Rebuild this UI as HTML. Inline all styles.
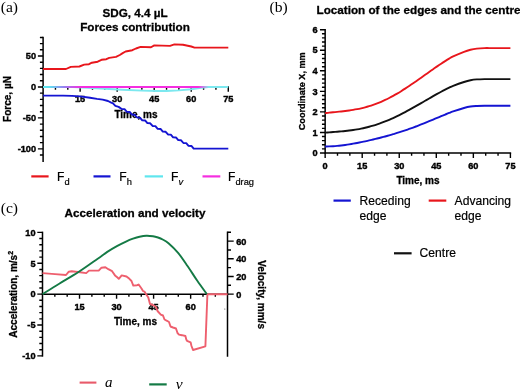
<!DOCTYPE html>
<html><head><meta charset="utf-8"><title>Figure</title>
<style>
html,body{margin:0;padding:0;background:#fff;}
body{width:520px;height:391px;overflow:hidden;}
svg{display:block;}
text{font-family:"Liberation Sans",Arial,sans-serif;fill:#000;}
.b{font-weight:bold;}
.tk{font-weight:bold;font-size:9.2px;stroke:#000;stroke-width:0.4px;}
.ttl{font-weight:bold;font-size:11.7px;stroke:#000;stroke-width:0.3px;}
.ax{font-weight:bold;font-size:10px;stroke:#000;stroke-width:0.3px;}
.lg{font-size:12.1px;stroke:#000;stroke-width:0.2px;}
.sub{font-size:9.3px;}
.ser{font-family:"Liberation Serif","Times New Roman",serif;}
.axl{stroke:#000;stroke-width:1.5;fill:none;stroke-linecap:square;}
.t{stroke:#000;stroke-width:1.4;fill:none;}
.c{fill:none;stroke-width:1.9;stroke-linejoin:round;stroke-linecap:butt;}
</style></head><body>
<svg width="520" height="391" viewBox="0 0 520 391">
<rect width="520" height="391" fill="#fff"/>
<g id="all" style="filter:blur(0.3px)">

<g id="a">
<text x="0.7" y="11.9" class="ser" font-size="15.6">(a)</text>
<text x="135" y="16.5" class="ttl" text-anchor="middle">SDG, 4.4 µL</text>
<text x="135" y="30.5" class="ttl" text-anchor="middle">Forces contribution</text>
<path class="axl" d="M43.1,37.43V161.23"/>
<path class="axl" d="M43.1,86.95H228.27"/>
<path class="t" d="M43.1,155.04h-3.2M43.1,148.85h-5.2M43.1,142.66h-3.2M43.1,136.47h-3.2M43.1,130.28h-3.2M43.1,124.09h-3.2M43.1,117.90h-5.2M43.1,111.71h-3.2M43.1,105.52h-3.2M43.1,99.33h-3.2M43.1,93.14h-3.2M43.1,86.95h-5.2M43.1,80.76h-3.2M43.1,74.57h-3.2M43.1,68.38h-3.2M43.1,62.19h-3.2M43.1,56.00h-5.2M43.1,49.81h-3.2M43.1,43.62h-3.2M43.1,37.43h-3.2M55.45,86.95v2.7M67.79,86.95v2.7M80.13,86.95v4.7M92.48,86.95v2.7M104.82,86.95v2.7M117.17,86.95v4.7M129.51,86.95v2.7M141.86,86.95v2.7M154.20,86.95v4.7M166.55,86.95v2.7M178.89,86.95v2.7M191.24,86.95v4.7M203.58,86.95v2.7M215.93,86.95v2.7M228.27,86.95v4.7"/>
<text x="36.1" y="59.00" class="tk" text-anchor="end">50</text>
<text x="36.1" y="89.95" class="tk" text-anchor="end">0</text>
<text x="36.1" y="120.90" class="tk" text-anchor="end">-50</text>
<text x="36.1" y="151.85" class="tk" text-anchor="end">-100</text>
<text x="80.13" y="102.15" class="tk" text-anchor="middle">15</text>
<text x="117.17" y="102.15" class="tk" text-anchor="middle">30</text>
<text x="154.20" y="102.15" class="tk" text-anchor="middle">45</text>
<text x="191.24" y="102.15" class="tk" text-anchor="middle">60</text>
<text x="228.27" y="102.15" class="tk" text-anchor="middle">75</text>
<text x="136" y="117.6" class="ax" text-anchor="middle">Time, ms</text>
<text transform="translate(11.4,99) rotate(-90)" class="ax" text-anchor="middle">Force, µN</text>
<polyline class="c" stroke="#e8161c" points="43.1,69.0 66,69.0 70.8,66.9 79.4,66.5 84.2,64.6 89,64.2 91.9,62.7 97.7,61.7 101.5,59.8 106.3,59.2 109.2,57.9 116,56.9 119.8,55 122.7,53.1 125.6,51.5 132.3,50.2 136,48.5 140.6,46.9 151,47.3 154.3,45.4 170,45.9 174.4,44.4 183,44.8 191.3,46.5 194.5,47.6 228.3,47.6"/>
<polyline class="c" stroke="#1414d2" points="43.1,95.6 63,95.6 72,95.9 80,96.4 90,97.8 97,98.9 102.7,99.6 108,101 111.2,102.7 113,103.4 115.4,105.9 118.6,106.9 121.7,109 124.53,109.11 126.84,111.83 129.67,111.95 131.99,114.66 134.81,114.78 137.13,117.5 139.96,117.61 142.27,120.33 145.1,120.44 147.41,123.16 150.24,123.27 152.56,125.99 155.39,126.11 157.7,128.83 160.53,128.94 162.84,131.66 165.67,131.77 167.99,134.49 170.81,134.6 173.13,137.32 175.96,137.43 178.27,140.15 181.1,140.27 183.41,142.99 186.24,143.1 188.56,145.82 191.39,145.93 193.7,148.65 228.3,148.65"/>
<defs><linearGradient id="gm" gradientUnits="userSpaceOnUse" x1="43" y1="0" x2="208" y2="0"><stop offset="0" stop-color="#5fe6ee"/><stop offset="0.04" stop-color="#5fe0f0"/><stop offset="0.13" stop-color="#9a7df0"/><stop offset="0.23" stop-color="#f52ee0"/><stop offset="0.94" stop-color="#f52ee0"/><stop offset="1" stop-color="#8fd8ee"/></linearGradient></defs>
<polyline class="c" stroke="#7ce8ef" stroke-width="1.5" points="43.10,86.95 72.73,87.14 87.54,87.69 104.82,88.68 122.11,89.74 141.86,90.66 156.67,91.04 166.55,90.97 178.89,90.35 191.24,89.30 201.12,87.88 208.52,86.95 228.27,86.95"/>
<path class="c" stroke="url(#gm)" stroke-width="1.9" d="M43.1,87H208"/>
<path d="M31.3,176.4H48.6" stroke="#e8161c" stroke-width="2.2"/>
<text x="57" y="180.8" class="lg">F<tspan class="sub" dy="3.9">d</tspan></text>
<path d="M93.5,176.4H110.5" stroke="#1414d2" stroke-width="2.2"/>
<text x="119.3" y="180.8" class="lg">F<tspan class="sub" dy="3.9">h</tspan></text>
<path d="M144.7,176.4H163" stroke="#5fe6ee" stroke-width="2.2"/>
<text x="171" y="180.8" class="lg">F<tspan class="sub" dy="3.9" font-style="italic">v</tspan></text>
<path d="M202.5,176.4H220.3" stroke="#f52ee0" stroke-width="2.2"/>
<text x="228" y="180.8" class="lg">F<tspan class="sub" dy="3.9">drag</tspan></text>
</g>
<g id="b">
<text x="269.6" y="12.3" class="ser" font-size="15.6">(b)</text>
<text x="418.5" y="13.7" class="ttl" text-anchor="middle">Location of the edges and the centre</text>
<path class="axl" d="M325.15,29.70V153.0H510.40"/>
<path class="t" d="M325.15,153.00h-5.2M325.15,148.89h-3.2M325.15,144.78h-3.2M325.15,140.67h-3.2M325.15,136.56h-3.2M325.15,132.45h-5.2M325.15,128.34h-3.2M325.15,124.23h-3.2M325.15,120.12h-3.2M325.15,116.01h-3.2M325.15,111.90h-5.2M325.15,107.79h-3.2M325.15,103.68h-3.2M325.15,99.57h-3.2M325.15,95.46h-3.2M325.15,91.35h-5.2M325.15,87.24h-3.2M325.15,83.13h-3.2M325.15,79.02h-3.2M325.15,74.91h-3.2M325.15,70.80h-5.2M325.15,66.69h-3.2M325.15,62.58h-3.2M325.15,58.47h-3.2M325.15,54.36h-3.2M325.15,50.25h-5.2M325.15,46.14h-3.2M325.15,42.03h-3.2M325.15,37.92h-3.2M325.15,33.81h-3.2M325.15,29.70h-5.2M325.15,153.0v5M337.50,153.0v2.8M349.85,153.0v2.8M362.20,153.0v5M374.55,153.0v2.8M386.90,153.0v2.8M399.25,153.0v5M411.60,153.0v2.8M423.95,153.0v2.8M436.30,153.0v5M448.65,153.0v2.8M461.00,153.0v2.8M473.35,153.0v5M485.70,153.0v2.8M498.05,153.0v2.8M510.40,153.0v5"/>
<text x="317.65" y="156.20" class="tk" text-anchor="end">0</text>
<text x="317.65" y="135.65" class="tk" text-anchor="end">1</text>
<text x="317.65" y="115.10" class="tk" text-anchor="end">2</text>
<text x="317.65" y="94.55" class="tk" text-anchor="end">3</text>
<text x="317.65" y="74.00" class="tk" text-anchor="end">4</text>
<text x="317.65" y="53.45" class="tk" text-anchor="end">5</text>
<text x="317.65" y="32.90" class="tk" text-anchor="end">6</text>
<text x="325.15" y="168.80" class="tk" text-anchor="middle">0</text>
<text x="362.20" y="168.80" class="tk" text-anchor="middle">15</text>
<text x="399.25" y="168.80" class="tk" text-anchor="middle">30</text>
<text x="436.30" y="168.80" class="tk" text-anchor="middle">45</text>
<text x="473.35" y="168.80" class="tk" text-anchor="middle">60</text>
<text x="510.40" y="168.80" class="tk" text-anchor="middle">75</text>
<text x="418" y="183.5" class="ax" text-anchor="middle">Time, ms</text>
<text transform="translate(305.4,91.3) rotate(-90)" class="ax" style="font-size:9.1px" text-anchor="middle">Coordinate X, mm</text>
<path class="c" stroke="#1414d2" d="M325.15,146.43C325.82,146.43 327.82,146.44 329.15,146.41C330.48,146.38 331.82,146.31 333.15,146.23C334.48,146.14 335.82,146.03 337.15,145.91C338.48,145.79 339.82,145.64 341.15,145.48C342.48,145.32 343.82,145.15 345.15,144.96C346.48,144.77 347.82,144.57 349.15,144.35C350.48,144.14 351.82,143.91 353.15,143.68C354.48,143.45 355.82,143.20 357.15,142.95C358.48,142.69 359.82,142.43 361.15,142.16C362.48,141.89 363.82,141.61 365.15,141.32C366.48,141.04 367.82,140.74 369.15,140.44C370.48,140.14 371.82,139.83 373.15,139.51C374.48,139.20 375.82,138.87 377.15,138.54C378.48,138.21 379.82,137.87 381.15,137.53C382.48,137.18 383.82,136.82 385.15,136.46C386.48,136.10 387.82,135.73 389.15,135.35C390.48,134.97 391.82,134.58 393.15,134.18C394.48,133.78 395.82,133.38 397.15,132.96C398.48,132.55 399.82,132.12 401.15,131.69C402.48,131.25 403.82,130.81 405.15,130.36C406.48,129.90 407.82,129.44 409.15,128.97C410.48,128.49 411.82,128.01 413.15,127.52C414.48,127.03 415.82,126.53 417.15,126.02C418.48,125.51 419.82,124.99 421.15,124.46C422.48,123.94 423.82,123.41 425.15,122.87C426.48,122.33 427.82,121.78 429.15,121.23C430.48,120.68 431.82,120.12 433.15,119.57C434.48,119.01 435.82,118.45 437.15,117.89C438.48,117.33 439.82,116.77 441.15,116.21C442.48,115.65 443.82,115.10 445.15,114.55C446.48,114.01 447.82,113.46 449.15,112.94C450.48,112.41 450.67,112.21 453.15,111.39C455.62,110.57 461.11,108.81 464.00,108.00C466.89,107.19 468.37,106.88 470.50,106.55C472.63,106.22 474.48,106.14 476.80,106.00C479.12,105.86 481.87,105.75 484.40,105.70C486.93,105.65 489.23,105.70 492.00,105.70C494.77,105.70 497.93,105.70 501.00,105.70C504.07,105.70 508.83,105.70 510.40,105.70"/>
<path class="c" stroke="#e8161c" d="M325.15,113.16C325.82,113.08 327.82,112.82 329.15,112.67C330.48,112.52 331.82,112.39 333.15,112.26C334.48,112.12 335.82,112.00 337.15,111.87C338.48,111.73 339.82,111.61 341.15,111.47C342.48,111.32 343.82,111.18 345.15,111.02C346.48,110.87 347.82,110.70 349.15,110.51C350.48,110.33 351.82,110.13 353.15,109.91C354.48,109.69 355.82,109.45 357.15,109.19C358.48,108.93 359.82,108.65 361.15,108.35C362.48,108.04 363.82,107.71 365.15,107.35C366.48,107.00 367.82,106.61 369.15,106.20C370.48,105.80 371.82,105.36 373.15,104.89C374.48,104.43 375.82,103.94 377.15,103.42C378.48,102.90 379.82,102.35 381.15,101.77C382.48,101.20 383.82,100.59 385.15,99.96C386.48,99.33 387.82,98.68 389.15,97.99C390.48,97.31 391.82,96.60 393.15,95.87C394.48,95.13 395.82,94.37 397.15,93.59C398.48,92.81 399.82,92.01 401.15,91.19C402.48,90.36 403.82,89.52 405.15,88.66C406.48,87.80 407.82,86.92 409.15,86.03C410.48,85.14 411.82,84.23 413.15,83.31C414.48,82.39 415.82,81.46 417.15,80.52C418.48,79.59 419.82,78.64 421.15,77.69C422.48,76.74 423.82,75.79 425.15,74.84C426.48,73.89 427.82,72.93 429.15,71.98C430.48,71.04 431.82,70.09 433.15,69.16C434.48,68.23 435.82,67.30 437.15,66.39C438.48,65.48 439.82,64.58 441.15,63.70C442.48,62.82 443.82,61.96 445.15,61.13C446.48,60.29 447.82,59.48 449.15,58.69C450.48,57.91 450.67,57.58 453.15,56.43C455.62,55.28 461.11,52.91 464.00,51.80C466.89,50.69 468.37,50.28 470.50,49.75C472.63,49.22 474.48,48.88 476.80,48.60C479.12,48.33 481.87,48.18 484.40,48.10C486.93,48.02 489.23,48.10 492.00,48.10C494.77,48.10 497.93,48.10 501.00,48.10C504.07,48.10 508.83,48.10 510.40,48.10"/>
<path class="c" stroke="#111" d="M325.15,132.66C325.82,132.61 327.82,132.44 329.15,132.34C330.48,132.23 331.82,132.14 333.15,132.04C334.48,131.94 335.82,131.84 337.15,131.73C338.48,131.63 339.82,131.52 341.15,131.40C342.48,131.28 343.82,131.15 345.15,131.01C346.48,130.87 347.82,130.72 349.15,130.56C350.48,130.39 351.82,130.21 353.15,130.02C354.48,129.82 355.82,129.61 357.15,129.37C358.48,129.14 359.82,128.89 361.15,128.62C362.48,128.35 363.82,128.06 365.15,127.75C366.48,127.44 367.82,127.11 369.15,126.75C370.48,126.40 371.82,126.02 373.15,125.63C374.48,125.23 375.82,124.81 377.15,124.37C378.48,123.92 379.82,123.46 381.15,122.97C382.48,122.49 383.82,121.98 385.15,121.45C386.48,120.92 387.82,120.37 389.15,119.80C390.48,119.23 391.82,118.64 393.15,118.03C394.48,117.42 395.82,116.79 397.15,116.15C398.48,115.50 399.82,114.84 401.15,114.16C402.48,113.49 403.82,112.79 405.15,112.08C406.48,111.38 407.82,110.66 409.15,109.92C410.48,109.19 411.82,108.45 413.15,107.70C414.48,106.95 415.82,106.19 417.15,105.42C418.48,104.66 419.82,103.89 421.15,103.11C422.48,102.34 423.82,101.56 425.15,100.79C426.48,100.01 427.82,99.24 429.15,98.47C430.48,97.70 431.82,96.93 433.15,96.17C434.48,95.41 435.82,94.66 437.15,93.92C438.48,93.18 439.82,92.44 441.15,91.73C442.48,91.02 443.82,90.32 445.15,89.64C446.48,88.96 447.82,88.30 449.15,87.66C450.48,87.02 450.67,86.76 453.15,85.82C455.62,84.88 461.11,82.93 464.00,82.00C466.89,81.07 468.37,80.68 470.50,80.25C472.63,79.82 474.48,79.59 476.80,79.40C479.12,79.21 481.87,79.15 484.40,79.10C486.93,79.05 489.23,79.10 492.00,79.10C494.77,79.10 497.93,79.10 501.00,79.10C504.07,79.10 508.83,79.10 510.40,79.10"/>
<path d="M333.5,200.6H350.8" stroke="#1414d2" stroke-width="2.2"/>
<text x="359.6" y="204.8" class="lg">Receding</text><text x="359.6" y="220.1" class="lg">edge</text>
<path d="M428.7,200.6H446.3" stroke="#e8161c" stroke-width="2.2"/>
<text x="454.6" y="204.8" class="lg">Advancing</text><text x="454.6" y="220.1" class="lg">edge</text>
<path d="M394,253.3H411.6" stroke="#111" stroke-width="2.2"/>
<text x="419.6" y="257.4" class="lg">Centre</text>
</g>
<g id="c">
<text x="0.7" y="213.1" class="ser" font-size="15.6">(c)</text>
<text x="135" y="217" class="ttl" text-anchor="middle">Acceleration and velocity</text>
<path class="axl" d="M42.5,232.40V355.90"/>
<path class="axl" d="M227.50,232.30V356.00"/>
<path class="axl" d="M42.5,294.15H227.50"/>
<path class="t" d="M42.5,355.90h-5.2M42.5,349.72h-3.2M42.5,343.55h-3.2M42.5,337.38h-3.2M42.5,331.20h-3.2M42.5,325.02h-5.2M42.5,318.85h-3.2M42.5,312.67h-3.2M42.5,306.50h-3.2M42.5,300.32h-3.2M42.5,294.15h-5.2M42.5,287.97h-3.2M42.5,281.80h-3.2M42.5,275.62h-3.2M42.5,269.45h-3.2M42.5,263.27h-5.2M42.5,257.10h-3.2M42.5,250.92h-3.2M42.5,244.75h-3.2M42.5,238.57h-3.2M42.5,232.40h-5.2M54.84,294.15v2.7M67.19,294.15v2.7M79.53,294.15v4.7M91.88,294.15v2.7M104.22,294.15v2.7M116.57,294.15v4.7M128.91,294.15v2.7M141.26,294.15v2.7M153.60,294.15v4.7M165.95,294.15v2.7M178.29,294.15v2.7M190.64,294.15v4.7M202.98,294.15v2.7M215.33,294.15v2.7M227.50,294.15h6.2M227.50,285.31h3.5M227.50,276.48h6.2M227.50,267.64h3.5M227.50,258.81h6.2M227.50,249.97h3.5M227.50,241.14h6.2M227.50,232.30h3.5"/>
<text x="35.5" y="235.70" class="tk" text-anchor="end">10</text>
<text x="35.5" y="266.57" class="tk" text-anchor="end">5</text>
<text x="35.5" y="297.45" class="tk" text-anchor="end">0</text>
<text x="35.5" y="328.32" class="tk" text-anchor="end">-5</text>
<text x="35.5" y="359.20" class="tk" text-anchor="end">-10</text>
<text x="236.20" y="244.54" class="tk">60</text>
<text x="236.20" y="262.21" class="tk">40</text>
<text x="236.20" y="279.88" class="tk">20</text>
<text x="236.20" y="297.55" class="tk">0</text>
<text x="79.53" y="309.75" class="tk" text-anchor="middle">15</text>
<text x="116.57" y="309.75" class="tk" text-anchor="middle">30</text>
<text x="153.60" y="309.75" class="tk" text-anchor="middle">45</text>
<text x="190.64" y="309.75" class="tk" text-anchor="middle">60</text>
<text x="135.5" y="325" class="ax" text-anchor="middle">Time, ms</text>
<text transform="translate(16.8,294.3) rotate(-90)" class="ax" text-anchor="middle">Acceleration, m/s<tspan font-size="7" dy="-3.5">2</tspan></text>
<text transform="translate(258.4,294.6) rotate(90)" class="ax" text-anchor="middle">Velocity, mm/s</text>
<polyline class="c" stroke="#ee5f6e" stroke-width="1.7" points="42.5,273.1 55,274.1 66,275 68.8,271.7 71.7,271.2 80,272.3 86.2,273.1 89,270.6 98.7,270.6 101.5,267.7 105.4,267.3 108.3,269.2 112.1,271.2 115,275.4 117.5,277.5 118.8,278.85 121.7,275.4 126.5,276.5 129.4,278.85 131.5,281 133.3,285.6 137.1,285.2 138.65,284.5 141.5,288.5 143,291 144.4,291.6 146.3,294.5 148.3,297.5 150,304 153,305 156,307 157.5,311 160.8,314.6 163,315.5 164.5,319.5 167,320.8 169,322 170.5,326.5 173,327.5 176,328.5 177.5,333 179,334.6 182,335.2 185.4,336 186.3,339.5 187,340.8 190.6,342.3 191.5,346 193,350 205.4,346.3 207.4,294.2 227.6,294.2"/>
<path class="c" stroke="#147a45" stroke-width="1.9" d="M42.60,294.10C45.37,292.37 53.22,287.38 59.20,283.70C65.18,280.02 72.08,276.17 78.50,272.00C84.92,267.83 92.90,262.05 97.70,258.70C102.50,255.35 104.10,253.99 107.30,251.90C110.50,249.81 113.70,247.92 116.90,246.15C120.10,244.38 123.82,242.54 126.50,241.30C129.18,240.06 130.82,239.47 133.00,238.70C135.18,237.93 137.38,237.20 139.60,236.70C141.82,236.20 144.07,235.78 146.30,235.70C148.53,235.62 151.05,235.90 153.00,236.20C154.95,236.50 156.38,236.95 158.00,237.50C159.62,238.05 160.95,238.53 162.70,239.50C164.45,240.47 165.93,241.07 168.50,243.30C171.07,245.53 174.90,249.07 178.10,252.90C181.30,256.73 184.50,261.65 187.70,266.30C190.90,270.95 194.12,276.17 197.30,280.80C200.48,285.43 205.22,291.88 206.80,294.10"/>
<circle cx="224.8" cy="309" r="0.6" fill="#555"/>
<path d="M79.6,382.6H96.4" stroke="#e85a6a" stroke-width="2.1"/>
<text x="105" y="387.3" class="ser" font-size="15" font-style="italic">a</text>
<path d="M149.2,384.4H166.7" stroke="#147a45" stroke-width="2.2"/>
<text x="175.8" y="389.4" class="ser" font-size="15.5" font-style="italic">v</text>
</g>
</g></svg></body></html>
